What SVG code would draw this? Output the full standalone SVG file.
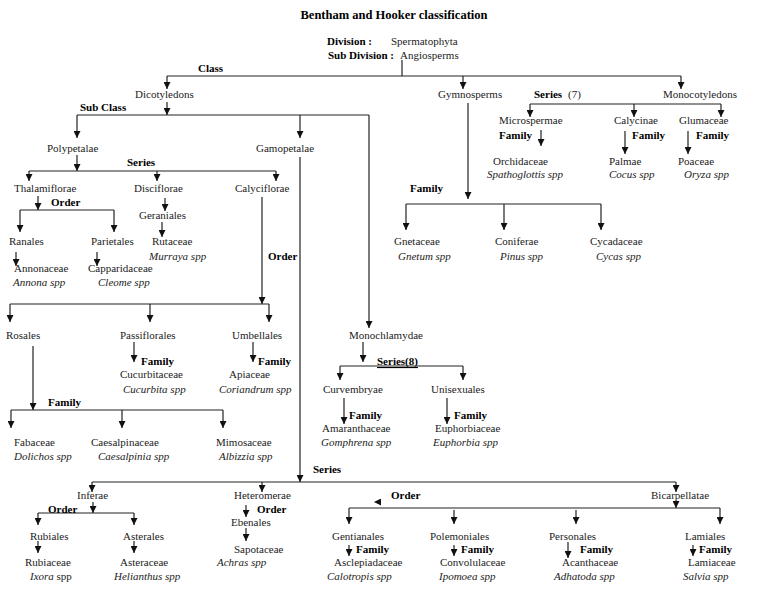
<svg xmlns="http://www.w3.org/2000/svg" width="768" height="594" viewBox="0 0 768 594">
<style>
text{font-family:"Liberation Serif","Times New Roman","DejaVu Serif",serif;font-size:11px;fill:#222;dominant-baseline:central}
.b{font-weight:bold;fill:#000}
.i{font-style:italic}
.t{font-size:12.5px;font-weight:bold;fill:#000}
#conn line,#conn path{stroke:#222;stroke-width:1.2;fill:none}
.a{marker-end:url(#ah)}
</style>
<defs>
<marker id="ah" markerUnits="userSpaceOnUse" markerWidth="7" markerHeight="7" viewBox="0 0 7 7" refX="7" refY="3.5" orient="auto"><path d="M0,0L7,3.5L0,7Z" fill="#111"/></marker>
</defs>
<rect width="768" height="594" fill="#fff"/>
<g id="conn">
<line x1="402" y1="60" x2="402" y2="76"/>
<path d="M167,76H681"/>
<line x1="167" y1="76" x2="167" y2="89" class="a"/>
<line x1="681" y1="76" x2="681" y2="89" class="a"/>
<line x1="463" y1="76" x2="463" y2="89" class="a"/>
<line x1="167" y1="102" x2="167" y2="115" class="a"/>
<path d="M77,115H369"/>
<line x1="77" y1="115" x2="77" y2="138" class="a"/>
<line x1="300" y1="115" x2="300" y2="138" class="a"/>
<line x1="369" y1="115" x2="369" y2="328" class="a"/>
<line x1="77" y1="155" x2="77" y2="171" class="a"/>
<path d="M29,171H276"/>
<line x1="29" y1="171" x2="29" y2="181" class="a"/>
<line x1="157" y1="171" x2="157" y2="181" class="a"/>
<line x1="276" y1="171" x2="276" y2="181" class="a"/>
<line x1="38" y1="196" x2="38" y2="210" class="a"/>
<path d="M20,210H114"/>
<line x1="20" y1="210" x2="20" y2="232" class="a"/>
<line x1="114" y1="210" x2="114" y2="232" class="a"/>
<line x1="16" y1="252" x2="16" y2="266" class="a"/>
<line x1="97" y1="252" x2="97" y2="266" class="a"/>
<line x1="165" y1="198" x2="165" y2="211" class="a"/>
<line x1="162" y1="222" x2="162" y2="237" class="a"/>
<line x1="262" y1="197" x2="262" y2="304" class="a"/>
<line x1="300" y1="157" x2="300" y2="482" class="a"/>
<path d="M10,304H269"/>
<line x1="10" y1="304" x2="10" y2="322" class="a"/>
<line x1="150" y1="304" x2="150" y2="322" class="a"/>
<line x1="269" y1="304" x2="269" y2="322" class="a"/>
<line x1="134" y1="342" x2="134" y2="362" class="a"/>
<line x1="253" y1="342" x2="253" y2="362" class="a"/>
<line x1="33" y1="346" x2="33" y2="410" class="a"/>
<path d="M11,410H223"/>
<line x1="11" y1="410" x2="11" y2="428" class="a"/>
<line x1="122" y1="410" x2="122" y2="428" class="a"/>
<line x1="223" y1="410" x2="223" y2="428" class="a"/>
<line x1="363" y1="342" x2="363" y2="362" class="a"/>
<path d="M340,366H463"/>
<line x1="340" y1="366" x2="340" y2="380" class="a"/>
<line x1="463" y1="366" x2="463" y2="380" class="a"/>
<line x1="344" y1="398" x2="344" y2="424" class="a"/>
<line x1="447" y1="398" x2="447" y2="424" class="a"/>
<path d="M92,482H676"/>
<line x1="92" y1="482" x2="92" y2="492" class="a"/>
<line x1="262" y1="482" x2="262" y2="492" class="a"/>
<line x1="676" y1="482" x2="676" y2="492" class="a"/>
<line x1="93" y1="502" x2="93" y2="513" class="a"/>
<path d="M38,513H134"/>
<line x1="38" y1="513" x2="38" y2="525" class="a"/>
<line x1="134" y1="513" x2="134" y2="525" class="a"/>
<line x1="38" y1="541" x2="38" y2="553" class="a"/>
<line x1="134" y1="541" x2="134" y2="553" class="a"/>
<line x1="246" y1="505" x2="246" y2="517" class="a"/>
<line x1="246" y1="528" x2="246" y2="541" class="a"/>
<line x1="676" y1="502" x2="676" y2="508" class="a"/>
<path d="M349,508H720"/>
<line x1="349" y1="508" x2="349" y2="524" class="a"/>
<line x1="454" y1="510" x2="454" y2="524" class="a"/>
<line x1="576" y1="510" x2="576" y2="524" class="a"/>
<line x1="720" y1="508" x2="720" y2="524" class="a"/>
<line x1="381" y1="502" x2="374" y2="502" class="a" style="stroke-width:0.1"/>
<line x1="349" y1="545" x2="349" y2="556" class="a"/>
<line x1="454" y1="545" x2="454" y2="556" class="a"/>
<line x1="568" y1="542" x2="568" y2="558" class="a"/>
<line x1="693" y1="545" x2="693" y2="556" class="a"/>
<line x1="468" y1="103" x2="468" y2="199" class="a"/>
<path d="M406,204H601"/>
<line x1="406" y1="204" x2="406" y2="230" class="a"/>
<line x1="504" y1="204" x2="504" y2="230" class="a"/>
<line x1="601" y1="204" x2="601" y2="230" class="a"/>
<path d="M530,104H721"/>
<line x1="530" y1="104" x2="530" y2="117" class="a"/>
<line x1="634" y1="104" x2="634" y2="117" class="a"/>
<line x1="721" y1="104" x2="721" y2="117" class="a"/>
<line x1="541" y1="130" x2="541" y2="146" class="a"/>
<line x1="625" y1="131" x2="625" y2="154" class="a"/>
<line x1="688" y1="131" x2="688" y2="154" class="a"/>
</g>
<g id="title"><text x="394" y="15" class="t" text-anchor="middle">Bentham and Hooker classification</text></g>
<g id="division"><text x="327" y="41" class="b">Division  :</text><text x="391" y="41">Spermatophyta</text></g>
<g id="subdivision"><text x="328" y="55" class="b">Sub Division :</text><text x="400" y="55">Angiosperms</text></g>
<g id="lbls">
<text x="198" y="68" class="b">Class</text>
<text x="80" y="107" class="b">Sub Class</text>
<text x="127" y="162" class="b">Series</text>
<text x="51" y="202" class="b">Order</text>
<text x="268" y="256" class="b">Order</text>
<text x="534" y="94" class="b">Series</text><text x="568" y="94">(7)</text>
<text x="410" y="188" class="b">Family</text>
<text x="48" y="402" class="b">Family</text>
<text x="141" y="361" class="b">Family</text>
<text x="258" y="361" class="b">Family</text>
<text x="377" y="361" class="b" text-decoration="underline">Series(8)</text>
<text x="349" y="415" class="b">Family</text>
<text x="454" y="415" class="b">Family</text>
<text x="313" y="469" class="b">Series</text>
<text x="48" y="509" class="b">Order</text>
<text x="257" y="509" class="b">Order</text>
<text x="391" y="495" class="b">Order</text>
<text x="499" y="135" class="b">Family</text>
<text x="632" y="135" class="b">Family</text>
<text x="696" y="135" class="b">Family</text>
<text x="356" y="549" class="b">Family</text>
<text x="461" y="549" class="b">Family</text>
<text x="580" y="549" class="b">Family</text>
<text x="699" y="549" class="b">Family</text>
</g>
<g id="dicot"><text x="135" y="94">Dicotyledons</text></g>
<g id="gymno"><text x="438" y="94">Gymnosperms</text></g>
<g id="monocot"><text x="663" y="94">Monocotyledons</text></g>
<g id="polypetalae"><text x="47" y="148">Polypetalae</text></g>
<g id="gamopetalae"><text x="256" y="148">Gamopetalae</text></g>
<g id="thalamiflorae"><text x="14" y="188">Thalamiflorae</text></g>
<g id="disciflorae"><text x="134" y="188">Disciflorae</text></g>
<g id="calyciflorae"><text x="235" y="188">Calyciflorae</text></g>
<g id="ranales"><text x="9" y="241">Ranales</text><text x="14" y="268">Annonaceae</text><text x="13" y="282" class="i">Annona spp</text></g>
<g id="parietales"><text x="91" y="241">Parietales</text><text x="88" y="268">Capparidaceae</text><text x="98" y="282" class="i">Cleome spp</text></g>
<g id="geraniales"><text x="139" y="215">Geraniales</text><text x="152" y="241">Rutaceae</text><text x="149" y="256" class="i">Murraya spp</text></g>
<g id="rosales"><text x="6" y="335">Rosales</text></g>
<g id="passiflorales"><text x="120" y="335">Passiflorales</text><text x="120" y="374">Cucurbitaceae</text><text x="123" y="389" class="i">Cucurbita spp</text></g>
<g id="umbellales"><text x="232" y="335">Umbellales</text><text x="229" y="374">Apiaceae</text><text x="219" y="389" class="i">Coriandrum spp</text></g>
<g id="fabaceae"><text x="14" y="442">Fabaceae</text><text x="14" y="456" class="i">Dolichos spp</text></g>
<g id="caesalp"><text x="91" y="442">Caesalpinaceae</text><text x="98" y="456" class="i">Caesalpinia spp</text></g>
<g id="mimosaceae"><text x="216" y="442">Mimosaceae</text><text x="219" y="456" class="i">Albizzia  spp</text></g>
<g id="monochlamydae"><text x="349" y="335">Monochlamydae</text></g>
<g id="curvembryae"><text x="323" y="389">Curvembryae</text><text x="322" y="428">Amaranthaceae</text><text x="321" y="442" class="i">Gomphrena  spp</text></g>
<g id="unisexuales"><text x="431" y="389">Unisexuales</text><text x="435" y="428">Euphorbiaceae</text><text x="433" y="442" class="i">Euphorbia spp</text></g>
<g id="inferae"><text x="77" y="495">Inferae</text></g>
<g id="heteromerae"><text x="234" y="495">Heteromerae</text><text x="231" y="522">Ebenales</text><text x="234" y="549">Sapotaceae</text><text x="217" y="562" class="i">Achras spp</text></g>
<g id="bicarpellatae"><text x="651" y="495">Bicarpellatae</text></g>
<g id="rubiales"><text x="30" y="536">Rubiales</text><text x="25" y="562">Rubiaceae</text><text x="30" y="576"><tspan class="i">Ixora</tspan> spp</text></g>
<g id="asterales"><text x="123" y="536">Asterales</text><text x="120" y="562">Asteraceae</text><text x="114" y="576" class="i">Helianthus spp</text></g>
<g id="gentianales"><text x="332" y="536">Gentianales</text><text x="334" y="562">Asclepiadaceae</text><text x="327" y="576" class="i">Calotropis  spp</text></g>
<g id="polemoniales"><text x="430" y="536">Polemoniales</text><text x="440" y="562">Convolulaceae</text><text x="439" y="576" class="i">Ipomoea   spp</text></g>
<g id="personales"><text x="549" y="536">Personales</text><text x="562" y="562">Acanthaceae</text><text x="554" y="576" class="i">Adhatoda spp</text></g>
<g id="lamiales"><text x="685" y="536">Lamiales</text><text x="688" y="562">Lamiaceae</text><text x="683" y="576" class="i">Salvia spp</text></g>
<g id="gnetaceae"><text x="394" y="241">Gnetaceae</text><text x="398" y="256" class="i">Gnetum spp</text></g>
<g id="coniferae"><text x="495" y="241">Coniferae</text><text x="500" y="256" class="i">Pinus spp</text></g>
<g id="cycadaceae"><text x="590" y="241">Cycadaceae</text><text x="596" y="256" class="i">Cycas spp</text></g>
<g id="microspermae"><text x="499" y="120">Microspermae</text><text x="493" y="161">Orchidaceae</text><text x="487" y="174" class="i">Spathoglottis spp</text></g>
<g id="calycinae"><text x="614" y="120">Calycinae</text><text x="609" y="161">Palmae</text><text x="609" y="174" class="i">Cocus spp</text></g>
<g id="glumaceae"><text x="679" y="120">Glumaceae</text><text x="678" y="161">Poaceae</text><text x="684" y="174" class="i">Oryza spp</text></g>
</svg>
